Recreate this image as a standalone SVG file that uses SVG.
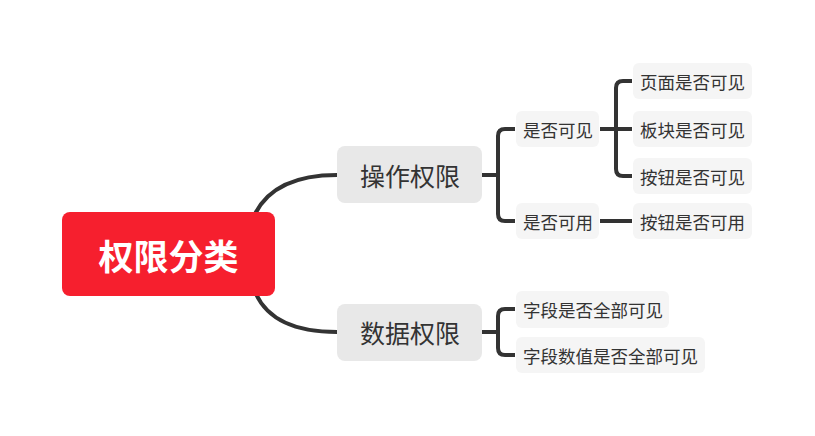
<svg xmlns="http://www.w3.org/2000/svg" width="815" height="436" viewBox="0 0 815 436">
<style>
.c{fill:none;stroke:#333;stroke-width:4;stroke-linecap:butt}
.t{font-family:"Noto Sans CJK SC","Microsoft YaHei",sans-serif;fill:#333;dominant-baseline:central}
.leaf rect{fill:#f5f5f5}
.leaf text{font-size:17.5px}
.main rect{fill:#e8e8e8}
.main text{font-size:25px;text-anchor:middle}
</style>
<rect width="815" height="436" fill="#fff"/>
<g id="connectors">
<path class="c" d="M255,214 C268,188 295,175 337,175"/>
<path class="c" d="M256,294 C268,320 295,332 337,332"/>
<path class="c" d="M482,175 H498"/>
<path class="c" d="M515,129 H505 Q498,129 498,136 V214 Q498,221 505,221 H515"/>
<path class="c" d="M600,129 H632"/>
<path class="c" d="M632,81 H623 Q616,81 616,88 V169 Q616,176 623,176 H632"/>
<path class="c" d="M600,221 H632"/>
<path class="c" d="M482,332 H498"/>
<path class="c" d="M515,309 H505 Q498,309 498,316 V348 Q498,355 505,355 H515"/>
</g>
<g id="root">
<rect x="62" y="212" width="213" height="84" rx="8" fill="#f61f2e"/>
<text class="t" x="168.5" y="254" font-size="35" font-weight="bold" text-anchor="middle" style="fill:#fff">权限分类</text>
</g>
<g id="n-op" class="main">
<rect x="337" y="146" width="145" height="57" rx="8"/>
<text class="t" x="410" y="175">操作权限</text>
</g>
<g id="n-data" class="main">
<rect x="337" y="304" width="145" height="57" rx="8"/>
<text class="t" x="410" y="332">数据权限</text>
</g>
<g id="n-visible" class="leaf">
<rect x="516" y="111" width="83" height="36" rx="6"/>
<text class="t" x="523" y="129">是否可见</text>
</g>
<g id="n-usable" class="leaf">
<rect x="516" y="203" width="83" height="36" rx="6"/>
<text class="t" x="523" y="221">是否可用</text>
</g>
<g id="n-page" class="leaf">
<rect x="633" y="63" width="119" height="36" rx="6"/>
<text class="t" x="640" y="81">页面是否可见</text>
</g>
<g id="n-block" class="leaf">
<rect x="633" y="111" width="119" height="36" rx="6"/>
<text class="t" x="640" y="129">板块是否可见</text>
</g>
<g id="n-btnv" class="leaf">
<rect x="633" y="158" width="119" height="36" rx="6"/>
<text class="t" x="640" y="176">按钮是否可见</text>
</g>
<g id="n-btnu" class="leaf">
<rect x="633" y="203" width="119" height="36" rx="6"/>
<text class="t" x="640" y="221">按钮是否可用</text>
</g>
<g id="n-field" class="leaf">
<rect x="516" y="291" width="153" height="37" rx="6"/>
<text class="t" x="523" y="309">字段是否全部可见</text>
</g>
<g id="n-fieldval" class="leaf">
<rect x="516" y="337" width="189" height="36" rx="6"/>
<text class="t" x="523" y="355">字段数值是否全部可见</text>
</g>
</svg>
